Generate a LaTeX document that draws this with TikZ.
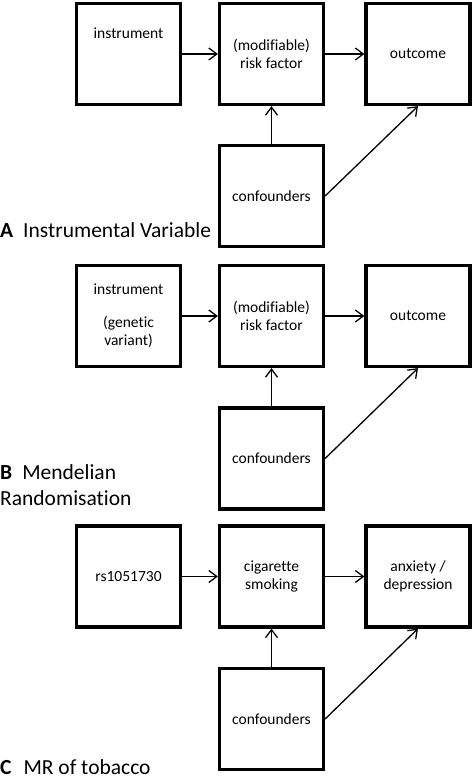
\documentclass[tikz,border=0pt]{standalone}
\usepackage{fontspec}
\setmainfont{Carlito}[Ligatures=NoCommon]
\usetikzlibrary{arrows.meta}
\begin{document}
\begin{tikzpicture}[x=1pt,y=-1pt,
  box/.style={draw=black,line width=3.2pt,minimum width=104pt,minimum height=101pt,inner sep=0pt,align=center,font=\fontsize{15.5}{18}\selectfont},
  txt/.style={inner sep=0pt,align=center,font=\fontsize{15.5}{18}\selectfont},
  lab/.style={inner sep=0pt,anchor=base west,align=left,font=\fontsize{21.5}{26}\selectfont},
  conn/.style={line width=1.3pt,-{Straight Barb[length=8pt,width=12pt,line width=1.3pt]}}]
\useasboundingbox[fill=white] (0,0) rectangle (474,779);
% ---------- A ----------
\node[box] (inA) at (128.5,54) {};
\node[txt] (inAt) at (128.5,33) {instrument};
\node[box] (rfA) at (271.5,54) {(modifiable)\\risk factor};
\node[box] (ocA) at (418,54) {outcome};
\node[box] (cfA) at (271.5,196) {confounders};
\draw[conn] (inA.east) -- (rfA.west);
\draw[conn] (rfA.east) -- (ocA.west);
\draw[conn] (cfA.north) -- (rfA.south);
\draw[conn] (cfA.east) -- (ocA.south);
\node[lab] (labA) at (0,237) {\textbf{A}\hspace{10pt}Instrumental Variable};
% ---------- B ----------
\node[box] (inB) at (128.5,316) {instrument\\[15pt](genetic\\variant)};
\node[box] (rfB) at (271.5,316) {(modifiable)\\risk factor};
\node[box] (ocB) at (418,316) {outcome};
\node[box] (cfB) at (271.5,458.5) {confounders};
\draw[conn] (inB.east) -- (rfB.west);
\draw[conn] (rfB.east) -- (ocB.west);
\draw[conn] (cfB.north) -- (rfB.south);
\draw[conn] (cfB.east) -- (ocB.south);
\node[lab] (labB) at (0,505) {\textbf{B}\hspace{10pt}Mendelian\\Randomisation};
% ---------- C ----------
\node[box] (inC) at (128.5,576.5) {rs1051730};
\node[box] (rfC) at (271.5,576.5) {cigarette\\smoking};
\node[box] (ocC) at (418,576.5) {anxiety /\\depression};
\node[box] (cfC) at (271.5,719) {confounders};
\draw[conn] (inC.east) -- (rfC.west);
\draw[conn] (rfC.east) -- (ocC.west);
\draw[conn] (cfC.north) -- (rfC.south);
\draw[conn] (cfC.east) -- (ocC.south);
\node[lab] (labC) at (0,774) {\textbf{C}\hspace{12pt}MR of tobacco};
\end{tikzpicture}
\end{document}
